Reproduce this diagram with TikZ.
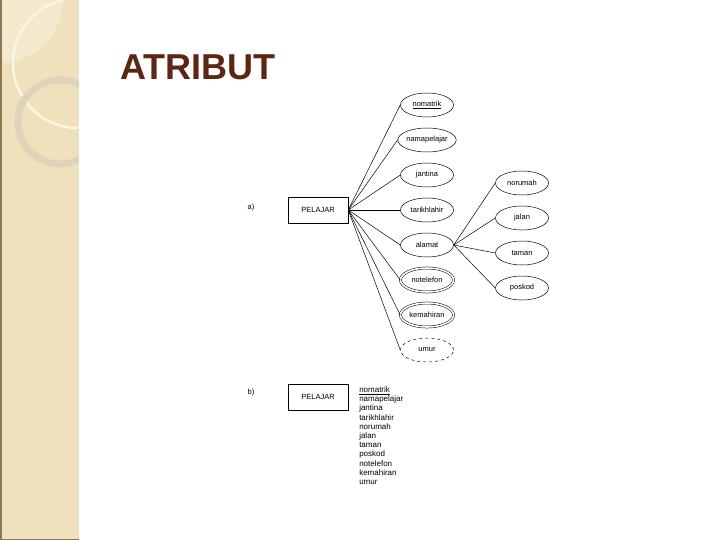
\documentclass[tikz,border=0pt]{standalone}
\usepackage{fontspec}
\setmainfont{Liberation Sans}
\usepackage{tikz}
\usetikzlibrary{shapes,arrows.meta,positioning}
\definecolor{strip}{RGB}{239,225,188}
\definecolor{stripedge}{RGB}{140,118,86}
\definecolor{ringgrey}{RGB}{222,212,188}
\definecolor{ringlight}{RGB}{251,246,228}
\definecolor{titlebrown}{RGB}{92,38,20}
\tikzstyle{attr} = [ellipse,draw,line width=0.5pt,minimum width=53pt,minimum height=24pt,inner sep=0pt,font=\fontsize{7.5}{9}\selectfont]
\tikzstyle{multi} = [attr,double,double distance=1.6pt]
\tikzstyle{derived} = [attr,dashed]
\tikzstyle{entity} = [rectangle,draw,line width=0.5pt,minimum width=60pt,minimum height=26pt,inner sep=0pt,font=\fontsize{7.5}{9}\selectfont]
\tikzstyle{lbl} = [inner sep=0pt,font=\fontsize{7.5}{9}\selectfont]
\tikzset{>=latex}

\begin{document}
\begin{tikzpicture}[x=1pt,y=1pt,line width=0.5pt]
    \useasboundingbox (0,-540) rectangle (720,0);

    % side strip of the slide
    \fill [strip] (0,-540) rectangle (79,0);
    \begin{scope}
      \clip (0,-540) rectangle (79,0);
      \fill [ringlight,opacity=0.4] (0,0) circle (63);
      \draw [ringlight,line width=2.5pt] (78,-63) circle (65);
      \draw [ringgrey,line width=7pt] (60,-122) circle (42);
    \end{scope}
    \draw [stripedge,line width=1.5pt] (0.75,0) -- (0.75,-539.25) -- (79,-539.25);

    \node [anchor=base west,inner sep=0pt,text=titlebrown,font=\fontsize{36}{40}\selectfont\bfseries] (title) at (120,-80) {ATRIBUT};

    % a) ER form
    \node [lbl] (la) at (251,-208) {a)};
    \node [entity] (pelajar) at (318,-210) {PELAJAR};

    \node [attr] (nomatrik) at (427,-105) {\underline{nomatrik}};
    \node [attr] (namapelajar) at (427,-140) {namapelajar};
    \node [attr] (jantina) at (427,-175) {jantina};
    \node [attr] (tarikhlahir) at (427,-210) {tarikhlahir};
    \node [attr] (alamat) at (427,-245) {alamat};
    \node [multi] (notelefon) at (427,-280) {notelefon};
    \node [multi] (kemahiran) at (427,-315) {kemahiran};
    \node [derived] (umur) at (427,-350) {umur};

    \node [attr] (norumah) at (522,-183) {norumah};
    \node [attr] (jalan) at (522,-218) {jalan};
    \node [attr] (taman) at (522,-253) {taman};
    \node [attr] (poskod) at (522,-288) {poskod};

    \draw (pelajar.east) -- (nomatrik.west);
    \draw (pelajar.east) -- (namapelajar.west);
    \draw (pelajar.east) -- (jantina.west);
    \draw (pelajar.east) -- (tarikhlahir.west);
    \draw (pelajar.east) -- (alamat.west);
    \draw (pelajar.east) -- (notelefon.west);
    \draw (pelajar.east) -- (kemahiran.west);
    \draw (pelajar.east) -- (umur.west);

    \draw (alamat.east) -- (norumah.west);
    \draw (alamat.east) -- (jalan.west);
    \draw (alamat.east) -- (taman.west);
    \draw (alamat.east) -- (poskod.west);

    % b) table form
    \node [lbl] (lb) at (251,-393) {b)};
    \node [entity] (pelajarb) at (318,-397) {PELAJAR};
    \node [anchor=north west,inner sep=0pt,align=left,font=\fontsize{8}{9.2}\selectfont] (senarai) at (359,-386.5)
      {\underline{nomatrik}\\namapelajar\\jantina\\tarikhlahir\\norumah\\jalan\\taman\\poskod\\notelefon\\kemahiran\\umur};
\end{tikzpicture}
\end{document}
